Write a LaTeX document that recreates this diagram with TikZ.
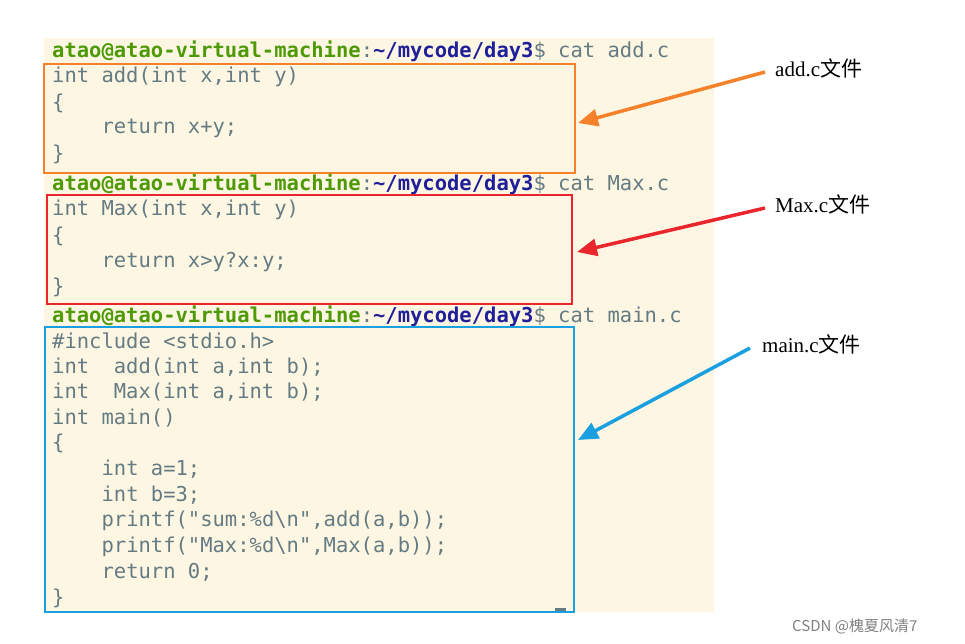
\documentclass[tikz,border=0pt]{standalone}
\usepackage{fontspec}
\setmonofont{DejaVu Sans Mono}
\setmainfont{Liberation Serif}
\newfontfamily\cjk{Noto Sans CJK SC}
\usetikzlibrary{arrows.meta}
\definecolor{bgc}{HTML}{FDF6E3}
\definecolor{codec}{HTML}{657B83}
\definecolor{pg}{HTML}{4E9A06}
\definecolor{pb}{HTML}{1F1F9A}
\definecolor{ora}{HTML}{F5822A}
\definecolor{redc}{HTML}{E8262B}
\definecolor{bluec}{HTML}{1AA0E0}
\tikzset{
 code/.style={anchor=west,inner sep=0,text=codec,font=\ttfamily\fontsize{20.5}{24}\selectfont},
 lbl/.style={anchor=west,inner sep=0,font=\fontsize{21}{24}\selectfont},
 box/.style={line width=1.6pt},
 arr/.style={line width=3.5pt,-{Triangle[length=20pt,width=17pt]}}
}
\newcommand{\prompt}[1]{{\bfseries\color{pg}atao@atao-virtual-machine}{\color{codec}:}{\bfseries\color{pb}\textasciitilde/mycode/day3}{\color{codec}\$ cat #1}}
\begin{document}
\begin{tikzpicture}[x=1pt,y=-1pt]
\useasboundingbox (0,0) rectangle (965,643);
\fill[bgc] (44,38) rectangle (714,612);
\node[code] (p1) at (52,51) {\prompt{add.c}};
\node[code] (a1) at (52,77) {int add(int x,int y)};
\node[code] (a2) at (52,103) {\{};
\node[code] (a3) at (52,128) {\ \ \ \ return x+y;};
\node[code] (a4) at (52,154) {\}};
\node[code] (p2) at (52,184) {\prompt{Max.c}};
\node[code] (m1) at (52,210) {int Max(int x,int y)};
\node[code] (m2) at (52,236) {\{};
\node[code] (m3) at (52,262) {\ \ \ \ return x>y?x:y;};
\node[code] (m4) at (52,287) {\}};
\node[code] (p3) at (52,316) {\prompt{main.c}};
\foreach \t [count=\i] in {{\#include <stdio.h>},{int\ \ add(int a,int b);},{int\ \ Max(int a,int b);},{int main()},{\{},{\ \ \ \ int a=1;},{\ \ \ \ int b=3;},{\ \ \ \ printf("sum:\%d\textbackslash n",add(a,b));},{\ \ \ \ printf("Max:\%d\textbackslash n",Max(a,b));},{\ \ \ \ return 0;},{\}}}
  \node[code] (c\i) at (52,{341+25.7*(\i-1)}) {\t};
\fill[codec] (555,608) rectangle (566,611);
\draw[box,ora] (44,64) rectangle (575,173);
\draw[box,redc] (47,195) rectangle (572,304);
\draw[box,bluec] (45,327) rectangle (574,612);
\node[lbl] (l1) at (775,68) {add.c{\cjk 文件}};
\node[lbl] (l2) at (775,204) {Max.c{\cjk 文件}};
\node[lbl] (l3) at (762,344) {main.c{\cjk 文件}};
\coordinate (e1) at (578,123);
\coordinate (e2) at (577,252);
\coordinate (e3) at (578,440);
\coordinate (s1) at (765,72);
\coordinate (s2) at (765,208);
\coordinate (s3) at (750,348);
\draw[arr,ora] (s1) -- (e1);
\draw[arr,redc] (s2) -- (e2);
\draw[arr,bluec] (s3) -- (e3);
\node[anchor=west,inner sep=0,text=gray,font=\fontsize{15}{18}\selectfont] (wm) at (792,626) {\cjk CSDN @槐夏风清7};
\end{tikzpicture}
\end{document}
